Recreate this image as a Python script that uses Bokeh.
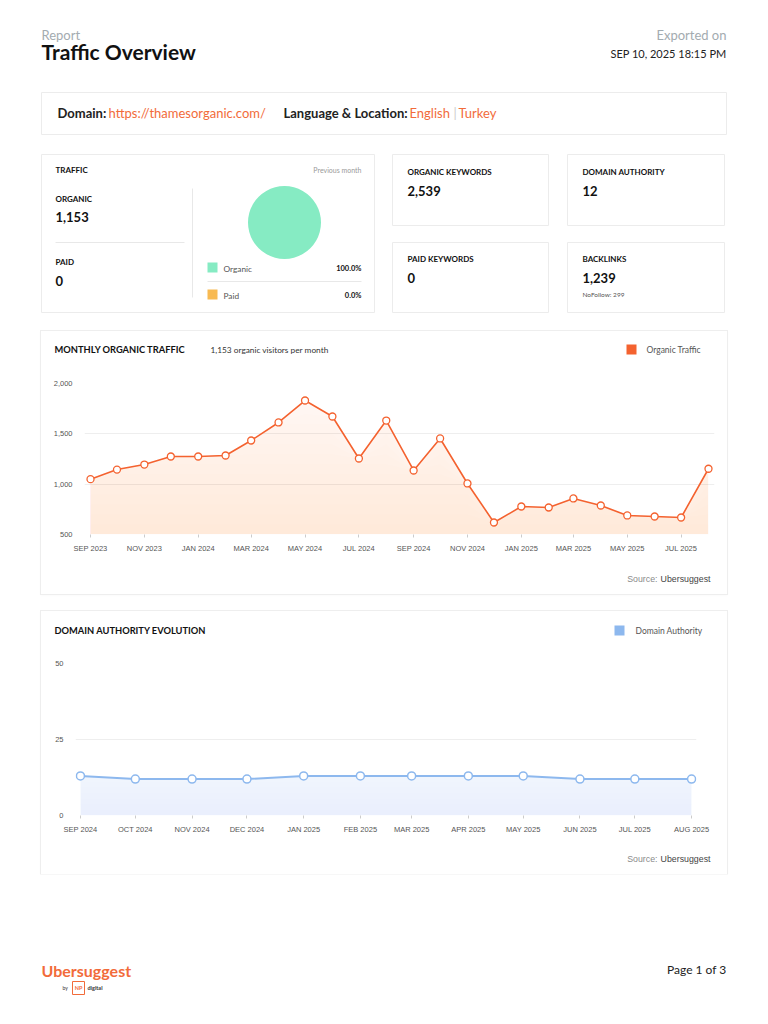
import numpy as np
import pandas as pd
from bokeh.plotting import figure
from bokeh.models import Range1d, FixedTicker, NumeralTickFormatter
from bokeh.layouts import column
from bokeh.core.properties import value
from bokeh.embed import file_html
from bokeh.resources import INLINE

# ---------------- data ----------------
traffic_months = ["2023-09", "2023-10", "2023-11", "2023-12", "2024-01", "2024-02",
                  "2024-03", "2024-04", "2024-05", "2024-06", "2024-07", "2024-08",
                  "2024-09", "2024-10", "2024-11", "2024-12", "2025-01", "2025-02",
                  "2025-03", "2025-04", "2025-05", "2025-06", "2025-07", "2025-08"]
organic_traffic = [1050, 1145, 1195, 1275, 1275, 1285, 1434, 1613, 1831, 1672, 1255, 1632,
                   1136, 1454, 1007, 619, 778, 768, 858, 788, 689, 679, 669, 1153]
traffic_tick_months = ["2023-09", "2023-11", "2024-01", "2024-03", "2024-05", "2024-07",
                       "2024-09", "2024-11", "2025-01", "2025-03", "2025-05", "2025-07"]
traffic_y_ticks = [500, 1000, 1500, 2000]

da_months = ["2024-09", "2024-10", "2024-11", "2024-12", "2025-01", "2025-02",
             "2025-03", "2025-04", "2025-05", "2025-06", "2025-07", "2025-08"]
domain_authority = [13, 12, 12, 12, 13, 13, 13, 13, 13, 12, 12, 12]
da_y_ticks = [0, 25, 50]

pie_labels = ["Organic", "Paid"]
pie_shares = [100.0, 0.0]
pie_colors = ["#86EBC3", "#F8BA52"]

organic_total = 1153
paid_total = 0
kpi_titles = ["ORGANIC KEYWORDS", "DOMAIN AUTHORITY", "PAID KEYWORDS", "BACKLINKS"]
kpi_values = ["2,539", "12", "0", "1,239"]

ORANGE = "#F26B3A"
LINE_OR = "#F4622F"
BLUE = "#8DB8EE"
CARD_LINE = "#ECECEC"


def T(p, x, y, s, size, color, bold=False, align="left", font="Lato"):
    p.text(x=[x], y=[y], text=[s], text_font=value(font), text_font_size=size,
           text_font_style="bold" if bold else "normal", text_color=color,
           text_align=align, text_baseline="middle")


def blank(x0, x1, y0, y1, **kw):
    """A figure whose frame is the whole canvas, in page pixel coordinates."""
    p = figure(width=x1 - x0, height=y1 - y0, x_range=Range1d(x0, x1), y_range=Range1d(y1, y0),
               x_axis_type=None, y_axis_type=None, min_border=0, frame_align=False,
               output_backend="svg", toolbar_location=None, **kw)
    p.grid.visible = False
    p.outline_line_color = None
    p.background_fill_color = "white"
    p.border_fill_color = "white"
    return p


# ---------------- header ----------------
hd = blank(0, 768, 0, 331)
T(hd, 41, 34, "Report", "13px", "#A3ABB0")
T(hd, 41, 51, "Traffic Overview", "21px", "#111111", bold=True)
T(hd, 726, 34, "Exported on", "13px", "#A3ABB0", align="right")
T(hd, 726, 53, "SEP 10, 2025 18:15 PM", "11px", "#222222", align="right")

card_l = [41, 41, 392, 567, 392, 567]
card_r = [726, 374, 548, 724, 548, 724]
card_t = [92, 154, 154, 154, 242, 242]
card_b = [134, 312, 225, 225, 312, 312]
hd.quad(left=card_l, right=card_r, top=card_t, bottom=card_b,
        fill_color="white", line_color=CARD_LINE, line_width=1)

T(hd, 57, 112, "Domain:", "13px", "#222222", bold=True)
T(hd, 108, 112, "https://thamesorganic.com/", "13px", ORANGE)
T(hd, 283, 112, "Language & Location:", "13px", "#222222", bold=True)
T(hd, 409, 112, "English", "13px", ORANGE)
T(hd, 453, 112, "|", "13px", "#CCCCCC")
T(hd, 458, 112, "Turkey", "13px", ORANGE)

# traffic card
T(hd, 55, 169, "TRAFFIC", "8px", "#111111", bold=True)
T(hd, 361, 169, "Previous month", "7px", "#9A9A9A", align="right")
T(hd, 55, 198, "ORGANIC", "8px", "#111111", bold=True)
T(hd, 55, 216, f"{organic_total:,}", "13px", "#111111", bold=True)
T(hd, 55, 261, "PAID", "8px", "#111111", bold=True)
T(hd, 55, 280, f"{paid_total:,}", "13px", "#111111", bold=True)
hd.segment(x0=[55, 192, 207], y0=[242, 188, 281], x1=[184, 192, 361], y1=[242, 297, 281],
           line_color="#E8E8E8", line_width=1)

shares = np.array(pie_shares) / 100.0
ends = np.cumsum(shares) * 2 * np.pi * 0.99999
starts = np.concatenate([[0.0], ends[:-1]])
keep = shares > 0
hd.wedge(x=284, y=222, radius=36.5, start_angle=starts[keep], end_angle=ends[keep],
         fill_color=list(np.array(pie_colors)[keep]), line_color=None)
leg_y = [267, 294]
hd.rect(x=[212, 212], y=leg_y, width=10, height=10, fill_color=pie_colors, line_color=None)
for i in range(2):
    T(hd, 223, leg_y[i] + 1, pie_labels[i], "8.3px", "#555555")
    T(hd, 361, leg_y[i] + 1, f"{pie_shares[i]:.1f}%", "7.5px", "#111111", bold=True, align="right")

kx = [407, 582, 407, 582]
ky = [171, 171, 258, 258]
for i in range(4):
    T(hd, kx[i], ky[i], kpi_titles[i], "8px", "#111111", bold=True)
    T(hd, kx[i], ky[i] + 19, kpi_values[i], "13px", "#111111", bold=True)
T(hd, 582, 294, "NoFollow: 299", "6.5px", "#555555")

CARD_STYLE = {"box-shadow": "0 0 0 1px #EEEEEE, 0 1px 3px rgba(0,0,0,0.04)"}


def style_axes(p):
    p.xaxis.axis_line_color = None
    p.yaxis.axis_line_color = None
    p.yaxis.major_tick_line_color = None
    p.yaxis.minor_tick_line_color = None
    p.xaxis.minor_tick_line_color = None
    p.xaxis.major_tick_line_color = "#CCCCCC"
    p.xaxis.major_tick_out = 3
    p.xaxis.major_tick_in = 0
    for ax in (p.xaxis, p.yaxis):
        ax.major_label_text_font = "Liberation Sans"
        ax.major_label_text_font_size = "7.5px"
        ax.major_label_text_color = "#555555"
    p.yaxis.major_label_standoff = 6
    p.xaxis.major_label_standoff = 6
    p.xgrid.grid_line_color = None
    p.ygrid.grid_line_color = "#EEEEEE"
    p.outline_line_color = None
    p.background_fill_color = "white"
    p.border_fill_color = "white"


def month_label(m):
    return pd.Timestamp(m).strftime("%b %Y").upper()


def source_strip(y0, y1, ys):
    s = blank(41, 727, y0, y1)
    T(s, 710, ys, "Ubersuggest", "8.8px", "#444444", align="right", font="Liberation Sans")
    T(s, 657, ys, "Source:", "8.8px", "#8A8A8A", align="right", font="Liberation Sans")
    return s


# ---------------- card 1: monthly organic traffic ----------------
top1 = blank(41, 727, 331, 373)
T(top1, 54, 349, "MONTHLY ORGANIC TRAFFIC", "9.3px", "#111111", bold=True)
T(top1, 210, 349, f"{organic_total:,} organic visitors per month", "8.3px", "#333333")
top1.rect(x=[631], y=[349], width=10, height=10, fill_color=LINE_OR, line_color=None)
T(top1, 646, 349, "Organic Traffic", "8.5px", "#555555")

t0 = pd.Timestamp(traffic_months[0])
tx = np.array([(pd.Timestamp(m) - t0).days for m in traffic_months], dtype=float)
ty = np.array(organic_traffic, dtype=float)
tticks = [(pd.Timestamp(m) - t0).days for m in traffic_tick_months]

p1 = figure(width=686, height=197,
            x_range=Range1d(-6.8, tx[-1] + 6.8),
            y_range=Range1d(traffic_y_ticks[0], traffic_y_ticks[-1]),
            min_border_left=43, min_border_right=13, min_border_top=10, min_border_bottom=36,
            frame_align=False, output_backend="svg", toolbar_location=None)
style_axes(p1)
p1.xaxis.ticker = FixedTicker(ticks=tticks)
p1.xaxis.major_label_overrides = {int(d): month_label(m) for d, m in zip(tticks, traffic_tick_months)}
p1.yaxis.ticker = FixedTicker(ticks=traffic_y_ticks)
p1.yaxis.formatter = NumeralTickFormatter(format="0,0")
p1.ygrid.ticker = FixedTicker(ticks=traffic_y_ticks)

base1 = traffic_y_ticks[0]
p1.varea(x=tx, y1=base1, y2=ty, fill_color=LINE_OR, fill_alpha=0.035)
for lv in np.linspace(base1, traffic_y_ticks[-1], 16)[1:]:
    p1.varea(x=tx, y1=base1, y2=np.minimum(ty, lv), fill_color=LINE_OR, fill_alpha=0.0095)
p1.line(tx, ty, line_color=LINE_OR, line_width=1.6)
p1.scatter(tx, ty, size=7, fill_color="white", line_color=LINE_OR, line_width=1.3)

bot1 = source_strip(570, 594, 578)
card1 = column(top1, p1, bot1, styles=CARD_STYLE, margin=(0, 0, 0, 41))

# ---------------- card 2: domain authority ----------------
top2 = blank(41, 727, 611, 653)
T(top2, 54, 630, "DOMAIN AUTHORITY EVOLUTION", "9.3px", "#111111", bold=True)
top2.rect(x=[619], y=[630], width=10, height=10, fill_color=BLUE, line_color=None)
T(top2, 635, 630, "Domain Authority", "8.5px", "#555555")

d0 = pd.Timestamp(da_months[0])
dx = np.array([(pd.Timestamp(m) - d0).days for m in da_months], dtype=float)
dy = np.array(domain_authority, dtype=float)

p2 = figure(width=686, height=197,
            x_range=Range1d(-2.7, dx[-1] + 2.7),
            y_range=Range1d(da_y_ticks[0], da_y_ticks[-1]),
            min_border_left=34, min_border_right=31, min_border_top=10, min_border_bottom=35,
            frame_align=False, output_backend="svg", toolbar_location=None)
style_axes(p2)
p2.xaxis.ticker = FixedTicker(ticks=list(dx))
p2.xaxis.major_label_overrides = {int(d): month_label(m) for d, m in zip(dx, da_months)}
p2.yaxis.ticker = FixedTicker(ticks=da_y_ticks)
p2.ygrid.ticker = FixedTicker(ticks=da_y_ticks)

base2 = da_y_ticks[0]
p2.varea(x=dx, y1=base2, y2=dy, fill_color=BLUE, fill_alpha=0.12)
for lv in np.linspace(base2, dy.max(), 8)[1:]:
    p2.varea(x=dx, y1=base2, y2=np.minimum(dy, lv), fill_color=BLUE, fill_alpha=0.01)
p2.line(dx, dy, line_color=BLUE, line_width=2)
p2.scatter(dx, dy, size=8, fill_color="white", line_color=BLUE, line_width=1.5)

bot2 = source_strip(850, 874, 858)
card2 = column(top2, p2, bot2, styles=CARD_STYLE, margin=(17, 0, 0, 41))

# ---------------- footer ----------------
ft = blank(0, 768, 874, 1014)
T(ft, 41, 970, "Ubersuggest", "16px", ORANGE, bold=True)
T(ft, 62, 987, "by", "5px", "#333333")
ft.quad(left=[72], right=[84], top=[981], bottom=[994], fill_color="white",
        line_color=ORANGE, line_width=1)
T(ft, 78, 987.5, "NP", "5.5px", ORANGE, bold=True, align="center")
T(ft, 87, 987, "digital", "5.5px", "#333333", bold=True)
T(ft, 726, 969, "Page 1 of 3", "12px", "#222222", align="right")

page = column(hd, card1, card2, ft)
open("out.html", "w").write(file_html(page, INLINE))
